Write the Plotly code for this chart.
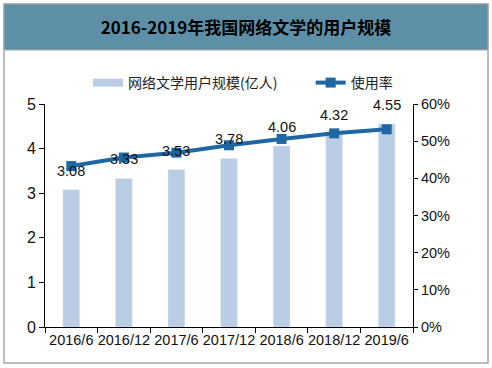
import plotly.graph_objects as go

categories = ["2016/6", "2016/12", "2017/6", "2017/12", "2018/6", "2018/12", "2019/6"]
users = [3.08, 3.33, 3.53, 3.78, 4.06, 4.32, 4.55]          # 亿人
rate = [0.433, 0.456, 0.469, 0.489, 0.506, 0.521, 0.532]   # 使用率

title_text = "2016-2019年我国网络文学的用户规模"
bar_name = "网络文学用户规模(亿人)"
line_name = "使用率"

W, H = 492, 368
L, R, T, B = 45, 413, 104, 327  # plot area in px

def px_x(p):
    return (p - L) / (R - L)

def px_y(p):
    return (B - p) / (B - T)

bar_color = "#b9cde5"
line_color = "#1f67a3"
num_font = dict(family="Liberation Sans, Arial", size=14.5, color="#111")
cjk_font = dict(family="Noto Sans CJK SC", size=14, color="#222")

fig = go.Figure()
fig.add_trace(go.Bar(x=categories, y=users, marker_color=bar_color, width=0.32,
                     showlegend=False, name=bar_name))
fig.add_trace(go.Scatter(x=categories, y=rate, yaxis="y2", mode="lines+markers",
                         line=dict(color=line_color, width=4),
                         marker=dict(symbol="square", size=10, color=line_color),
                         showlegend=False, name=line_name))
# legend entries
fig.add_trace(go.Scatter(x=[None], y=[None], mode="lines", name=bar_name + "\u00a0" * 9,
                         line=dict(color=bar_color, width=8)))
fig.add_trace(go.Scatter(x=[None], y=[None], mode="lines+markers", name=line_name, yaxis="y2",
                         line=dict(color=line_color, width=4),
                         marker=dict(symbol="square", size=10, color=line_color)))

for c, v in zip(categories, users):
    fig.add_annotation(x=c, y=v, text=f"{v:.2f}", showarrow=False, yanchor="bottom",
                       yshift=9, font=num_font)

shapes = [
    dict(type="rect", xref="paper", yref="paper", x0=px_x(4), x1=px_x(488),
         y0=px_y(4), y1=px_y(363), line=dict(color="#a6a6a6", width=1.5), layer="below"),
    dict(type="rect", xref="paper", yref="paper", x0=px_x(4), x1=px_x(488),
         y0=px_y(4), y1=px_y(50), fillcolor="#5d90a7", line=dict(color="#a6a6a6", width=1), layer="below"),
]

fig.update_layout(
    width=W, height=H,
    margin=dict(l=L, r=W - R, t=T, b=H - B),
    paper_bgcolor="white", plot_bgcolor="white",
    title=dict(text=f"<b>{title_text}</b>", x=0.5, xanchor="center", y=1 - 28 / H, yanchor="middle",
               font=dict(family="Noto Sans CJK SC", size=17, color="#000")),
    shapes=shapes,
    showlegend=True,
    legend=dict(orientation="h", x=px_x(88), xanchor="left", y=px_y(83), yanchor="middle",
                font=cjk_font, bgcolor="rgba(0,0,0,0)"),
    xaxis=dict(type="category", showline=True, linecolor="#000", linewidth=1,
               ticks="outside", ticklen=5, tickcolor="#000", tickson="boundaries",
               tickfont=dict(family="Liberation Sans, Arial", size=14.5, color="#111"),
               tickangle=0, automargin=False,
               showgrid=False, range=[-0.5, 6.5]),
    yaxis=dict(range=[0, 5], dtick=1, showline=True, linecolor="#000", linewidth=1,
               ticks="outside", ticklen=5, tickcolor="#000",
               tickfont=dict(family="Liberation Sans, Arial", size=16, color="#111"),
               showgrid=False, zeroline=False, automargin=False),
    yaxis2=dict(range=[0, 0.6], dtick=0.1, tickformat=".0%", overlaying="y", side="right",
                showline=True, linecolor="#000", linewidth=1, ticks="outside", ticklen=4,
                tickcolor="#000", tickfont=num_font, showgrid=False, zeroline=False,
                automargin=False),
)

fig.write_html("out.html")
